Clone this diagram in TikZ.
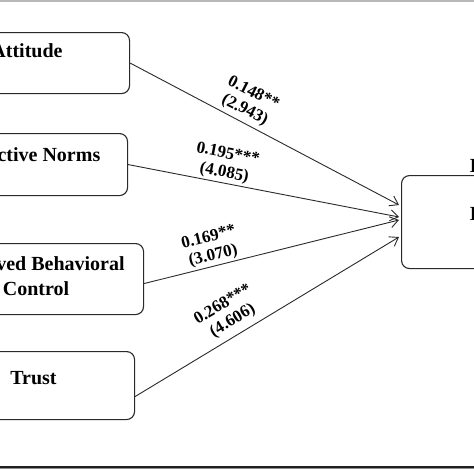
\documentclass[tikz,border=0pt]{standalone}
\usepackage{fontspec}
\setmainfont{Liberation Serif}
\usetikzlibrary{arrows.meta,calc}
\definecolor{edge}{HTML}{2A2A2A}
\begin{document}
\begin{tikzpicture}[x=1pt,y=-1pt,
  box/.style={draw=edge,line width=1.1pt,rounded corners=8pt,inner sep=0pt,anchor=north west},
  boxtext/.style={font=\fontsize{20}{24}\selectfont\bfseries,anchor=base,inner sep=0pt,text=black},
  coef/.style={font=\fontsize{17}{19}\selectfont\bfseries,align=center,inner sep=0pt,text=black},
  path/.style={draw=edge,line width=0.9pt,-{Straight Barb[length=8pt,width=11pt,line width=0.9pt]}}]
\useasboundingbox (0,0) rectangle (474,474);
\clip (0,0) rectangle (474,474);
\fill[white] (0,0) rectangle (474,474);
% frame lines
\fill[black!28] (0,0) rectangle (474,2);
\fill[black!88] (0,465.5) rectangle (474,468);
\fill[black!45] (0,468) rectangle (474,469);
% boxes
\node[box,minimum width=209pt,minimum height=61pt] (att) at (-80,32) {};
\node[box,minimum width=207pt,minimum height=62pt] (sn) at (-80,133) {};
\node[box,minimum width=223pt,minimum height=71pt] (pbc) at (-80,243) {};
\node[box,minimum width=214pt,minimum height=68pt] (tr) at (-80,351) {};
\node[box,minimum width=180pt,minimum height=93pt] (out) at (401,175) {};
% box texts
\node[boxtext] (attT) at (27,57) {Attitude};
\node[boxtext] (snT) at (24.5,161.5) {Subjective Norms};
\node[boxtext] (pbcT1) at (34,270) {Perceived Behavioral};
\node[boxtext] (pbcT2) at (36,295) {Control};
\node[boxtext] (trT) at (33.5,384) {Trust};
\node[boxtext,anchor=base west] (outT1) at (469.5,172) {I};
\node[boxtext,anchor=base west] (outT2) at (469.5,220) {I};
% connector end points
\coordinate (e1) at (399,205);
\coordinate (e2) at (399,217);
\coordinate (e3) at (399,220);
\coordinate (e4) at (399,237);
\coordinate (s3) at ($(pbc.east)+(0,4.5)$);
\coordinate (s4) at ($(tr.east)+(0,11)$);
\draw[path] (att.east) -- (e1);
\draw[path] (sn.east) -- (e2);
\draw[path] (s3) -- (e3);
\draw[path] (s4) -- (e4);
% coefficients
\node[coef,rotate=-27] (c1) at (249,102) {0.148**\\(2.943)};
\node[coef,rotate=-11] (c2) at (226,164) {0.195***\\(4.085)};
\node[coef,rotate=14] (c3) at (211,247) {0.169**\\(3.070)};
\node[coef,rotate=31] (c4) at (228,313) {0.268***\\(4.606)};
\end{tikzpicture}
\end{document}
